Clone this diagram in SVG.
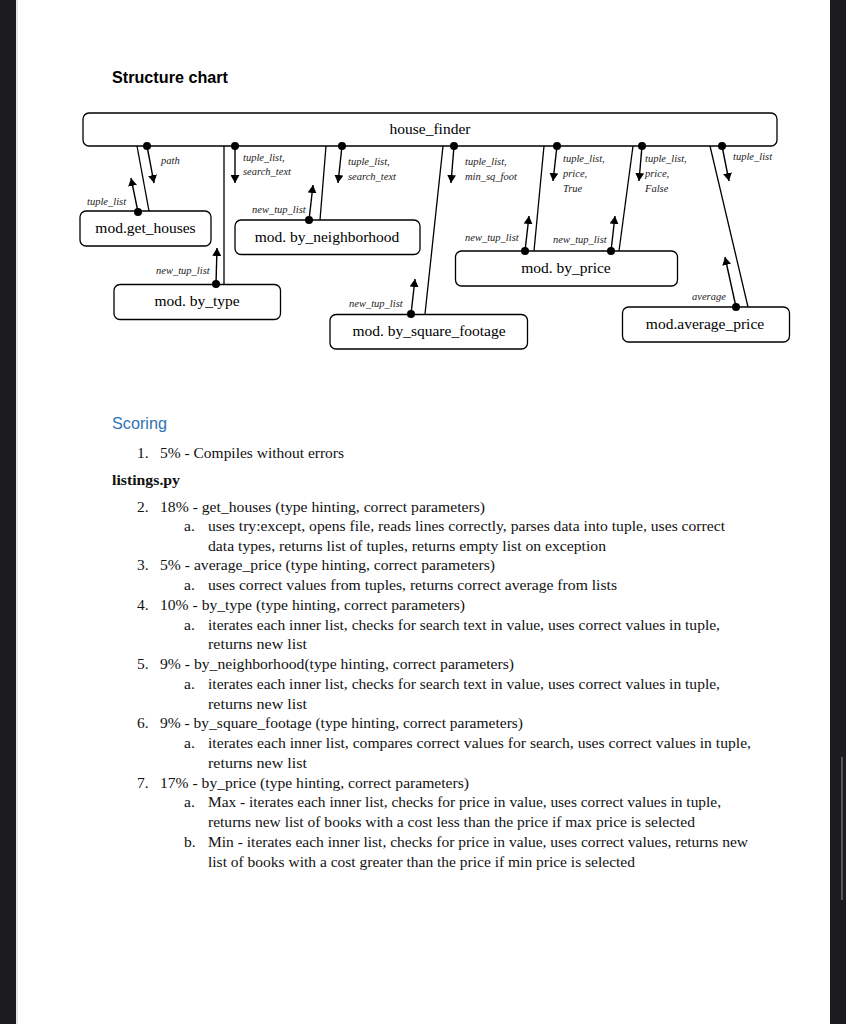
<svg xmlns="http://www.w3.org/2000/svg" width="846" height="1024" viewBox="0 0 846 1024">
<style>
.node rect{fill:#fff;stroke:#000;stroke-width:1.3}
.nt{font-family:"Liberation Serif","DejaVu Serif",serif;font-size:15.5px;fill:#000;text-anchor:middle}
.lbl{font-family:"Liberation Serif","DejaVu Serif",serif;font-style:italic;font-size:10.5px;fill:#222}
.call{stroke:#000;stroke-width:1.3;fill:none}
.flow{stroke:#000;stroke-width:1.4;fill:none;marker-end:url(#ah)}
.dot{fill:#000}
.body{font-family:"Liberation Serif","DejaVu Serif",serif;font-size:15.5px;fill:#111}
.hd{font-family:"Liberation Sans",Arial,sans-serif}
</style>
<defs>
<marker id="ah" markerWidth="8" markerHeight="9" refX="8" refY="4.5" orient="auto" markerUnits="userSpaceOnUse">
<path d="M0,0 L8,4.5 L0,9 z" fill="#000"/>
</marker>
</defs>
<rect x="0" y="0" width="846" height="1024" fill="#fff"/>
<rect x="0" y="0" width="16" height="1024" fill="#1c1c1e"/>
<rect x="16" y="0" width="2" height="1024" fill="#e6e6e6"/>
<rect x="830" y="0" width="16" height="1024" fill="#1c1c1e"/>
<line x1="842" y1="757" x2="842" y2="900" stroke="#6a6a6a" stroke-width="1.5"/>

<text x="112" y="83" class="hd" font-size="16.5" font-weight="bold" fill="#000" textLength="116" lengthAdjust="spacingAndGlyphs">Structure chart</text>

<g id="house_finder" class="node">
<rect x="83" y="113" width="694" height="33" rx="6"/>
<text class="nt" x="430" y="134">house_finder</text>
</g>
<g id="get_houses" class="node">
<rect x="80" y="211" width="131" height="35" rx="6"/>
<text class="nt" x="145.5" y="233">mod.get_houses</text>
</g>
<g id="by_type" class="node">
<rect x="114" y="284.5" width="166.5" height="35" rx="6"/>
<text class="nt" x="197" y="306">mod. by_type</text>
</g>
<g id="by_neighborhood" class="node">
<rect x="235" y="220" width="185" height="34.5" rx="6"/>
<text class="nt" x="327" y="242">mod. by_neighborhood</text>
</g>
<g id="by_square_footage" class="node">
<rect x="330" y="314.5" width="197.5" height="34.5" rx="6"/>
<text class="nt" x="429" y="336">mod. by_square_footage</text>
</g>
<g id="by_price" class="node">
<rect x="455.5" y="251" width="222" height="35" rx="6"/>
<text class="nt" x="566" y="273">mod. by_price</text>
</g>
<g id="average_price" class="node">
<rect x="622.5" y="307" width="167" height="35" rx="6"/>
<text class="nt" x="705" y="329">mod.average_price</text>
</g>

<g id="connectors">
<line class="call" x1="137" y1="146" x2="149" y2="211"/>
<line class="call" x1="224" y1="146" x2="224" y2="284"/>
<line class="call" x1="326" y1="146" x2="320" y2="220"/>
<line class="call" x1="443" y1="146" x2="425" y2="314"/>
<line class="call" x1="544" y1="146" x2="534" y2="251"/>
<line class="call" x1="633" y1="146" x2="619" y2="251"/>
<line class="call" x1="710" y1="146" x2="748" y2="307"/>

<line class="flow" x1="147" y1="146" x2="154" y2="183"/>
<line class="flow" x1="138" y1="212" x2="131" y2="178"/>
<line class="flow" x1="235" y1="146" x2="235" y2="183"/>
<line class="flow" x1="216" y1="284" x2="217" y2="248"/>
<line class="flow" x1="342" y1="146" x2="338" y2="183"/>
<line class="flow" x1="309" y1="220" x2="313" y2="185"/>
<line class="flow" x1="454" y1="146" x2="451" y2="183"/>
<line class="flow" x1="411" y1="314" x2="415" y2="279"/>
<line class="flow" x1="557" y1="146" x2="553" y2="181"/>
<line class="flow" x1="525" y1="251" x2="529" y2="216"/>
<line class="flow" x1="642" y1="146" x2="639" y2="181"/>
<line class="flow" x1="611" y1="251" x2="615" y2="216"/>
<line class="flow" x1="722" y1="146" x2="729" y2="181"/>
<line class="flow" x1="736" y1="307" x2="725" y2="257"/>

<circle class="dot" cx="147" cy="146" r="4"/>
<circle class="dot" cx="138" cy="212" r="4"/>
<circle class="dot" cx="235" cy="146" r="4"/>
<circle class="dot" cx="216" cy="284" r="4"/>
<circle class="dot" cx="342" cy="146" r="4"/>
<circle class="dot" cx="309" cy="220" r="4"/>
<circle class="dot" cx="454" cy="146" r="4"/>
<circle class="dot" cx="411" cy="314" r="4"/>
<circle class="dot" cx="557" cy="146" r="4"/>
<circle class="dot" cx="525" cy="251" r="4"/>
<circle class="dot" cx="642" cy="146" r="4"/>
<circle class="dot" cx="611" cy="251" r="4"/>
<circle class="dot" cx="722" cy="146" r="4"/>
<circle class="dot" cx="736" cy="307" r="4"/>

<text class="lbl" x="161" y="164">path</text>
<text class="lbl" x="87" y="205">tuple_list</text>
<text class="lbl" x="243" y="161">tuple_list,</text>
<text class="lbl" x="243" y="175">search_text</text>
<text class="lbl" x="156" y="274">new_tup_list</text>
<text class="lbl" x="348" y="165">tuple_list,</text>
<text class="lbl" x="348" y="180">search_text</text>
<text class="lbl" x="252" y="213">new_tup_list</text>
<text class="lbl" x="465" y="165">tuple_list,</text>
<text class="lbl" x="465" y="180">min_sq_foot</text>
<text class="lbl" x="349" y="307">new_tup_list</text>
<text class="lbl" x="563" y="162">tuple_list,</text>
<text class="lbl" x="563" y="177">price,</text>
<text class="lbl" x="563" y="192">True</text>
<text class="lbl" x="465" y="241">new_tup_list</text>
<text class="lbl" x="645" y="162">tuple_list,</text>
<text class="lbl" x="645" y="177">price,</text>
<text class="lbl" x="645" y="192">False</text>
<text class="lbl" x="553" y="243">new_tup_list</text>
<text class="lbl" x="733" y="160">tuple_list</text>
<text class="lbl" x="692" y="300">average</text>
</g>

<text x="112" y="429" class="hd" font-size="17" fill="#2E74B5" textLength="55" lengthAdjust="spacingAndGlyphs">Scoring</text>

<g class="body">
<text x="137" y="458">1.</text>
<text x="160" y="458" textLength="184" lengthAdjust="spacingAndGlyphs">5% - Compiles without errors</text>
<text x="112" y="485" font-weight="bold" textLength="68" lengthAdjust="spacingAndGlyphs">listings.py</text>

<text x="137" y="512">2.</text>
<text x="160" y="512" textLength="325" lengthAdjust="spacingAndGlyphs">18% - get_houses (type hinting, correct parameters)</text>
<text x="184" y="531">a.</text>
<text x="208" y="531" textLength="517" lengthAdjust="spacingAndGlyphs">uses try:except, opens file, reads lines correctly, parses data into tuple, uses correct</text>
<text x="208" y="551" textLength="398" lengthAdjust="spacingAndGlyphs">data types, returns list of tuples, returns empty list on exception</text>

<text x="137" y="570">3.</text>
<text x="160" y="570" textLength="335" lengthAdjust="spacingAndGlyphs">5% - average_price (type hinting, correct parameters)</text>
<text x="184" y="590">a.</text>
<text x="208" y="590" textLength="409" lengthAdjust="spacingAndGlyphs">uses correct values from tuples, returns correct average from lists</text>

<text x="137" y="610">4.</text>
<text x="160" y="610" textLength="305" lengthAdjust="spacingAndGlyphs">10% - by_type (type hinting, correct parameters)</text>
<text x="184" y="630">a.</text>
<text x="208" y="630" textLength="512" lengthAdjust="spacingAndGlyphs">iterates each inner list, checks for search text in value, uses correct values in tuple,</text>
<text x="208" y="649" textLength="99" lengthAdjust="spacingAndGlyphs">returns new list</text>

<text x="137" y="669">5.</text>
<text x="160" y="669" textLength="354" lengthAdjust="spacingAndGlyphs">9% - by_neighborhood(type hinting, correct parameters)</text>
<text x="184" y="689">a.</text>
<text x="208" y="689" textLength="512" lengthAdjust="spacingAndGlyphs">iterates each inner list, checks for search text in value, uses correct values in tuple,</text>
<text x="208" y="709" textLength="99" lengthAdjust="spacingAndGlyphs">returns new list</text>

<text x="137" y="728">6.</text>
<text x="160" y="728" textLength="363" lengthAdjust="spacingAndGlyphs">9% - by_square_footage (type hinting, correct parameters)</text>
<text x="184" y="748">a.</text>
<text x="208" y="748" textLength="543" lengthAdjust="spacingAndGlyphs">iterates each inner list, compares correct values for search, uses correct values in tuple,</text>
<text x="208" y="768" textLength="99" lengthAdjust="spacingAndGlyphs">returns new list</text>

<text x="137" y="788">7.</text>
<text x="160" y="788" textLength="309" lengthAdjust="spacingAndGlyphs">17% - by_price (type hinting, correct parameters)</text>
<text x="184" y="807">a.</text>
<text x="208" y="807" textLength="513" lengthAdjust="spacingAndGlyphs">Max - iterates each inner list, checks for price in value, uses correct values in tuple,</text>
<text x="208" y="827" textLength="487" lengthAdjust="spacingAndGlyphs">returns new list of books with a cost less than the price if max price is selected</text>
<text x="184" y="847">b.</text>
<text x="208" y="847" textLength="540" lengthAdjust="spacingAndGlyphs">Min - iterates each inner list, checks for price in value, uses correct values, returns new</text>
<text x="208" y="867" textLength="427" lengthAdjust="spacingAndGlyphs">list of books with a cost greater than the price if min price is selected</text>
</g>
</svg>
